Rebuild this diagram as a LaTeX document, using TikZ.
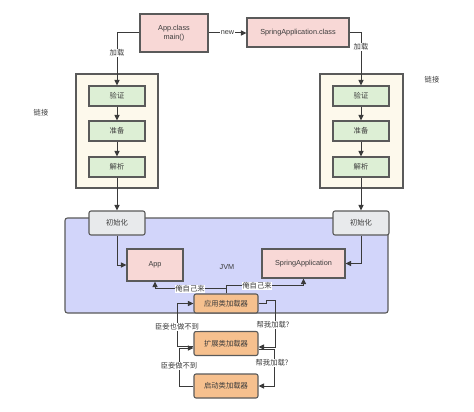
\documentclass[tikz,border=0pt]{standalone}
\usepackage{fontspec}
\setmainfont{Liberation Sans}
\newfontfamily\cjk{Noto Sans CJK SC}
\usetikzlibrary{arrows.meta,calc}
\definecolor{pinkf}{HTML}{F8D8D6}
\definecolor{creamf}{HTML}{FDF9EC}
\definecolor{greenf}{HTML}{DDEFD5}
\definecolor{grayf}{HTML}{E8EAEC}
\definecolor{jvmf}{HTML}{D2D5FA}
\definecolor{orangef}{HTML}{F6C08E}
\definecolor{edgec}{HTML}{5A5A5A}
\definecolor{linec}{HTML}{3A3A3A}
\definecolor{textc}{HTML}{3C3C3C}
\begin{document}
\begin{tikzpicture}[x=1pt,y=-1pt,
  font=\fontsize{7.3}{8.8}\selectfont, text=textc,
  box/.style={draw=edgec, line width=1.1pt, inner sep=0pt, align=center},
  pinkbox/.style={box, fill=pinkf},
  creambox/.style={box, fill=creamf},
  greenbox/.style={box, fill=greenf, font=\cjk\fontsize{7.3}{8.8}\selectfont},
  initbox/.style={box, fill=grayf, rounded corners=2pt, font=\cjk\fontsize{7.3}{8.8}\selectfont},
  jvmbox/.style={box, fill=jvmf, rounded corners=2.5pt},
  loaderbox/.style={box, fill=orangef, rounded corners=2pt, font=\cjk\fontsize{7.3}{8.8}\selectfont},
  plainline/.style={draw=linec, line width=1pt},
  conn/.style={plainline, -{Triangle[length=5.5pt,width=5pt]}},
  lbl/.style={fill=white, inner sep=0.6pt, font=\cjk\fontsize{7.3}{8.8}\selectfont},
  cjktext/.style={inner sep=0pt, font=\cjk\fontsize{7.3}{8.8}\selectfont}
]
\useasboundingbox (0,0) rectangle (474,412);
\fill[white] (0,0) rectangle (474,412);

% containers
\node[creambox, minimum width=82pt, minimum height=114pt] (link1) at (117,131) {};
\node[creambox, minimum width=83pt, minimum height=114pt] (link2) at (361.5,131) {};
\node[jvmbox, minimum width=323pt, minimum height=95pt] (jvm) at (226.5,265.5) {};
\node[inner sep=0pt] (jvmlabel) at (227,267) {JVM};
\node[cjktext] (linklabel1) at (41,113) {链接};
\node[cjktext] (linklabel2) at (432,80) {链接};

% top class boxes
\node[pinkbox, minimum width=68pt, minimum height=38pt] (appclass) at (174,33) {App.class\\main()};
\node[pinkbox, minimum width=102pt, minimum height=29pt] (springclass) at (298,32.5) {SpringApplication.class};

% linking steps
\node[greenbox, minimum width=56pt, minimum height=20pt] (yz1) at (117,96) {验证};
\node[greenbox, minimum width=56pt, minimum height=20pt] (zb1) at (117,131) {准备};
\node[greenbox, minimum width=56pt, minimum height=20pt] (jx1) at (117,167) {解析};
\node[greenbox, minimum width=56pt, minimum height=20pt] (yz2) at (361,96) {验证};
\node[greenbox, minimum width=56pt, minimum height=20pt] (zb2) at (361,131) {准备};
\node[greenbox, minimum width=56pt, minimum height=20pt] (jx2) at (361,167) {解析};

% init
\node[initbox, minimum width=56pt, minimum height=24pt] (init1) at (117,223) {初始化};
\node[initbox, minimum width=56pt, minimum height=24pt] (init2) at (361,223) {初始化};

% runtime classes
\node[pinkbox, minimum width=56pt, minimum height=32pt] (app) at (155,265) {App};
\node[pinkbox, minimum width=83pt, minimum height=29pt] (springapp) at (303.5,263.5) {SpringApplication};

% loaders
\node[loaderbox, minimum width=64pt, minimum height=19pt] (l1) at (226,303.5) {应用类加载器};
\node[loaderbox, minimum width=64pt, minimum height=24pt] (l2) at (226,343.5) {扩展类加载器};
\node[loaderbox, minimum width=64pt, minimum height=24pt] (l3) at (226,386) {启动类加载器};

% top connectors
\draw[conn] (appclass.east) -- (appclass.east -| springclass.west)
  node[midway, fill=white, inner sep=0.4pt] (newlbl) {new};
\draw[conn] (appclass.west) -| (yz1.north);
\node[lbl] (load1) at (117,53) {加载};
\draw[conn] (springclass.east) -| (yz2.north);
\node[lbl] (load2) at (361,47) {加载};

% chains
\draw[conn] (yz1) -- (zb1);
\draw[conn] (zb1) -- (jx1);
\draw[conn] (jx1) -- (init1);
\draw[conn] (yz2) -- (zb2);
\draw[conn] (zb2) -- (jx2);
\draw[conn] (jx2) -- (init2);

% init to classes
\draw[conn] (init1.south) |- (app.west);
\draw[conn] (init2.south) |- (springapp.east);

% self loading
\draw[conn] (l1.north) -- ++(0,-5) -| (app.south);
\draw[conn] (l1.north) -- ++(0,-8) -| (springapp.south);
\node[lbl] (self1) at (190,289) {俺自己来};
\node[lbl] (self2) at (257,286) {俺自己来};

% parent delegation (right)
\coordinate (kd) at (275,347);
\coordinate (ke) at (274,349);
\draw[conn] (l1.east) -- ++(8,0) -- ++(0,-3) -| (kd) -- (kd -| l2.east);
\draw[conn] (ke -| l2.east) -- (ke) |- (l3.east);
\node[lbl] (help1) at (273,325) {帮我加载?};
\node[lbl] (help2) at (272,363) {帮我加载?};

% fallback (left)
\coordinate (ka) at (177,346);
\coordinate (kc) at (179,348);
\draw[conn] (ka -| l2.west) -- (ka) |- (l1.west);
\draw[conn] (l3.west) -| (kc) -- (kc -| l2.west);
\node[lbl] (cant1) at (177,327) {臣妾也做不到};
\node[lbl] (cant2) at (179,366) {臣妾做不到};
\end{tikzpicture}
\end{document}
